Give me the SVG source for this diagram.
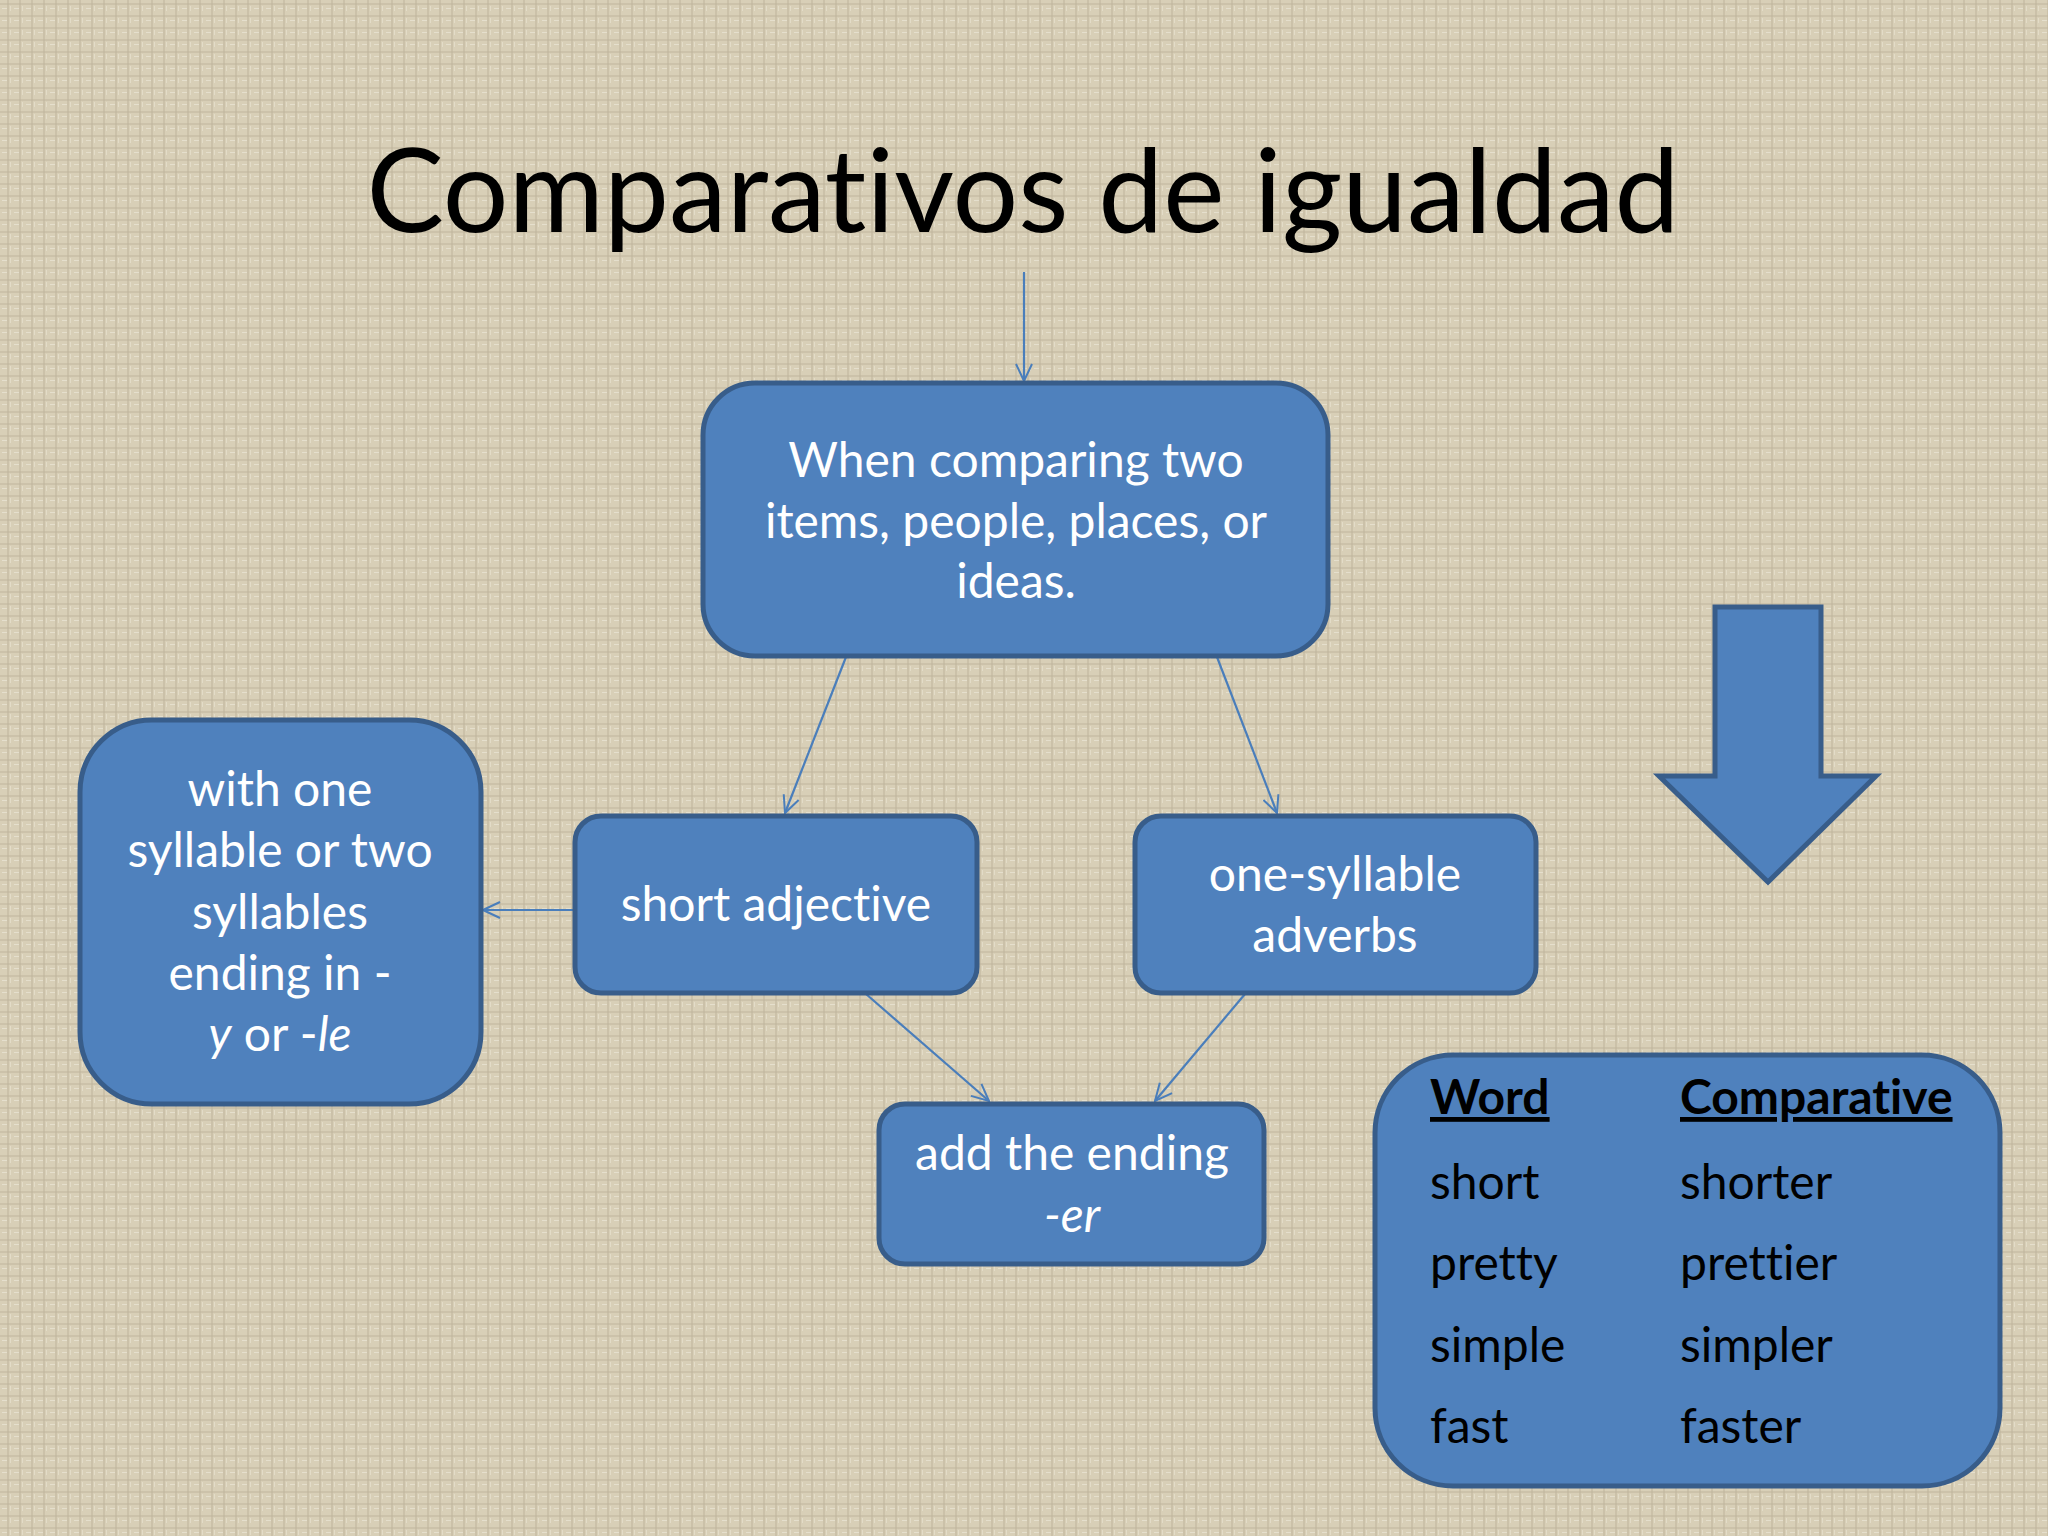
<svg xmlns="http://www.w3.org/2000/svg" width="2048" height="1536" viewBox="0 0 2048 1536">
  <defs>
    <pattern id="linen" width="12" height="12" patternUnits="userSpaceOnUse">
      <rect width="12" height="12" fill="#d8cfb7"/>
      <rect x="0" y="3" width="12" height="2" fill="#c2b89e" opacity="0.55"/>
      <rect x="7" y="0" width="2" height="12" fill="#beb49b" opacity="0.5"/>
      <rect x="2" y="8" width="5" height="1" fill="#ece6d6" opacity="0.7"/>
      <rect x="10" y="6" width="1" height="5" fill="#ebe5d4" opacity="0.6"/>
    </pattern>
    <marker id="arr" viewBox="0 0 20 20" refX="19" refY="10" markerWidth="20" markerHeight="20" markerUnits="userSpaceOnUse" orient="auto">
      <path d="M2,2 L19,10 L2,18" fill="none" stroke="#4a7ebb" stroke-width="2"/>
    </marker>
  </defs>
  <style>
    text { font-variant-ligatures: none; }
    .box { fill: #4f81bd; stroke: #385d8a; stroke-width: 5; }
    .wt { font-family: Lato, "Open Sans", "Liberation Sans", sans-serif; font-size: 48px; fill: #ffffff; text-anchor: middle; }
    .bt { font-family: Lato, "Open Sans", "Liberation Sans", sans-serif; font-size: 48px; fill: #000000; }
    .hd { font-weight: bold; text-decoration: underline; }
    .conn { fill: none; stroke: #4a7ebb; stroke-width: 2.2; marker-end: url(#arr); }
  </style>
  <rect width="2048" height="1536" fill="url(#linen)"/>

  <text x="1023" y="232" font-family="Lato, 'Open Sans', 'Liberation Sans', sans-serif" font-size="116" fill="#000" text-anchor="middle">Comparativos de igualdad</text>

  <g id="connectors">
    <line class="conn" x1="1024" y1="272" x2="1024" y2="381"/>
    <line class="conn" x1="846" y1="657" x2="785" y2="813"/>
    <line class="conn" x1="1217" y1="657" x2="1277" y2="813"/>
    <line class="conn" x1="575" y1="910" x2="483" y2="910"/>
    <line class="conn" x1="866" y1="994" x2="989" y2="1101"/>
    <line class="conn" x1="1245" y1="994" x2="1155" y2="1101"/>
  </g>

  <g id="node-top">
    <rect class="box" x="703" y="383" width="625" height="273" rx="52"/>
    <text class="wt" x="1016" y="477">When comparing two</text>
    <text class="wt" x="1016" y="538">items, people, places, or</text>
    <text class="wt" x="1016" y="598">ideas.</text>
  </g>

  <g id="node-left">
    <rect class="box" x="80" y="720" width="401" height="384" rx="72"/>
    <text class="wt" x="280" y="806">with one</text>
    <text class="wt" x="280" y="867">syllable or two</text>
    <text class="wt" x="280" y="929">syllables</text>
    <text class="wt" x="280" y="990">ending in -</text>
    <text class="wt" x="280" y="1051"><tspan font-style="italic">y</tspan> or -<tspan font-style="italic">le</tspan></text>
  </g>

  <g id="node-short">
    <rect class="box" x="575" y="816" width="402" height="177" rx="26"/>
    <text class="wt" x="776" y="921">short adjective</text>
  </g>

  <g id="node-adverbs">
    <rect class="box" x="1135" y="816" width="401" height="177" rx="26"/>
    <text class="wt" x="1335" y="891">one-syllable</text>
    <text class="wt" x="1335" y="952">adverbs</text>
  </g>

  <g id="node-ending">
    <rect class="box" x="879" y="1104" width="385" height="160" rx="26"/>
    <text class="wt" x="1072" y="1170">add the ending</text>
    <text class="wt" x="1072" y="1232" font-style="italic">-er</text>
  </g>

  <g id="big-arrow">
    <path class="box" d="M1715,607 L1821,607 L1821,776 L1876,776 L1768,882 L1659,776 L1715,776 Z"/>
  </g>

  <g id="node-table">
    <rect class="box" x="1375" y="1055" width="625" height="431" rx="78"/>
    <text class="bt hd" x="1430" y="1114">Word</text>
    <text class="bt hd" x="1680" y="1114">Comparative</text>
    <text class="bt" x="1430" y="1199">short</text>
    <text class="bt" x="1680" y="1199">shorter</text>
    <text class="bt" x="1430" y="1280">pretty</text>
    <text class="bt" x="1680" y="1280">prettier</text>
    <text class="bt" x="1430" y="1362">simple</text>
    <text class="bt" x="1680" y="1362">simpler</text>
    <text class="bt" x="1430" y="1443">fast</text>
    <text class="bt" x="1680" y="1443">faster</text>
  </g>
</svg>
